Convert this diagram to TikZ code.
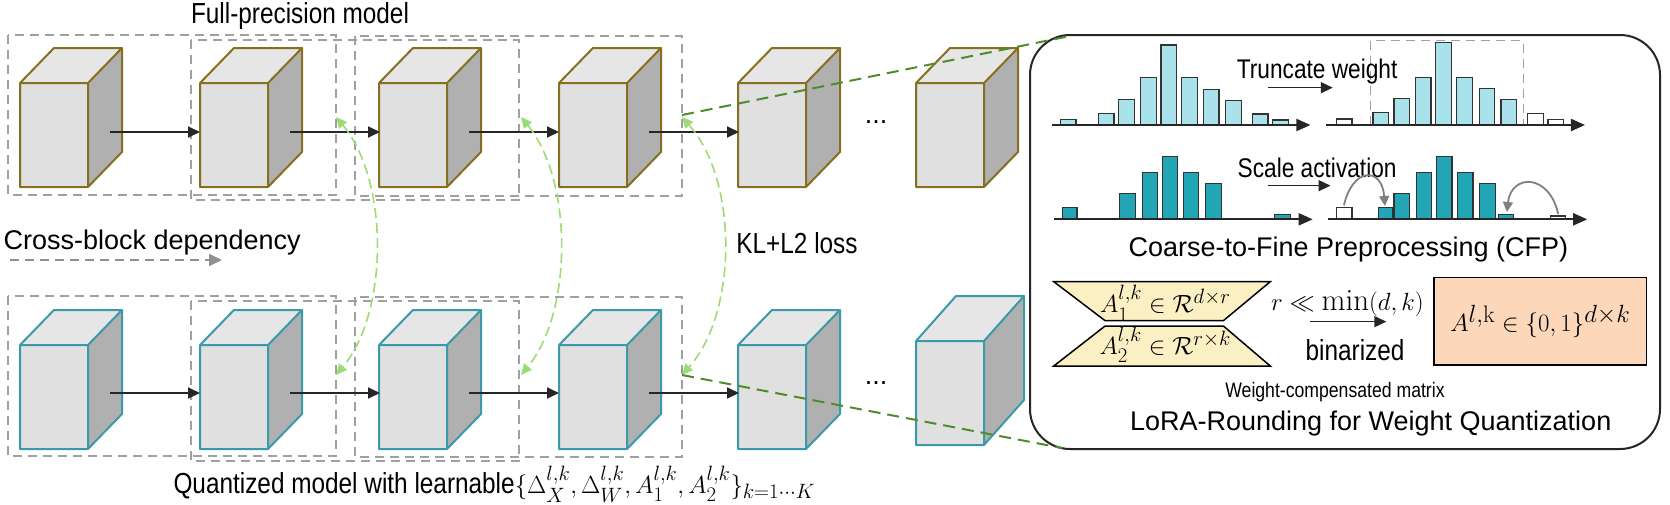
\documentclass[tikz,border=0pt]{standalone}
\usepackage{fontspec}
\setmainfont{Liberation Sans}
\newfontfamily\narrow{Liberation Sans}[FakeStretch=0.84]
\newfontfamily\lmr{Latin Modern Roman}
\newcommand{\serifup}[1]{\text{\lmr #1}}
\usepackage{amsmath}
\usetikzlibrary{arrows.meta}
\definecolor{olive}{HTML}{86701F}
\definecolor{tealb}{HTML}{3A9AAA}
\definecolor{frontc}{HTML}{E0E0E0}
\definecolor{sidec}{HTML}{B0B0B0}
\definecolor{topc}{HTML}{E6E6E6}
\definecolor{lbar}{HTML}{A9E2EA}
\definecolor{dbar}{HTML}{22A5B5}
\definecolor{lgreen}{HTML}{9CDC78}
\definecolor{dgreen}{HTML}{4E8C2E}
\definecolor{gbox}{HTML}{A0A0A0}
\definecolor{orangec}{HTML}{FCD7BA}
\definecolor{yellowc}{HTML}{FBF0C4}
\tikzset{
  gdash/.style={draw=gbox, line width=1.8pt, dash pattern=on 9pt off 6pt},
  flow/.style={-{Triangle[length=12pt,width=11pt]}, line width=1.8pt, black!85},
  kl/.style={{Triangle[length=11pt,width=10pt]}-{Triangle[length=11pt,width=10pt]}, draw=lgreen, line width=1.6pt, dash pattern=on 10pt off 5pt},
  link/.style={draw=dgreen, line width=2pt, dash pattern=on 12pt off 7pt},
  bar/.style={draw=black!80, line width=1.2pt},
  axis/.style={-{Triangle[length=14pt,width=12pt]}, line width=2pt, black!85},
  txt/.style={font=\fontsize{27}{30}\selectfont},
  ntxt/.style={font=\narrow\fontsize{29}{30}\selectfont},
}
\newcommand{\mycube}[5]{% x, y (front top-left), edge color, dx, dy
  \fill[topc] (#1,#2) -- ++(#4,-#5) -- ++(68,0) -- ++(-#4,#5) -- cycle;
  \fill[sidec] (#1+68,#2) -- ++(#4,-#5) -- ++(0,104) -- ++(-#4,#5) -- cycle;
  \fill[frontc] (#1,#2) rectangle ++(68,104);
  \draw[#3, line width=2pt, line join=round] (#1,#2) rectangle ++(68,104)
     (#1,#2) -- ++(#4,-#5) -- ++(68,0) -- ++(-#4,#5)
     (#1+68+#4,#2-#5) -- ++(0,104) -- ++(-#4,#5);
}
\begin{document}
\begin{tikzpicture}[x=1pt,y=-1pt]
\useasboundingbox (0,0) rectangle (1670,504);
% dashed boxes
\foreach \dy in {0,261}{
  \draw[gdash] (8,35+\dy) rectangle (336,195+\dy);
  \draw[gdash] (191,40+\dy) rectangle (519,200+\dy);
  \draw[gdash] (355,36+\dy) rectangle (682,196+\dy);
}
% cubes
\foreach \x in {20,200,379,559,738,916}{ \mycube{\x}{83}{olive}{34}{35} }
\foreach \x in {20,200,379,559,738}{ \mycube{\x}{345}{tealb}{34}{35} }
\mycube{916}{341}{tealb}{40}{45}
% flow arrows
\foreach \x [count=\i] in {20,200,379,559}{
  \coordinate (t\i) at (\x+90,132); \coordinate (tn\i) at (\x+180,132);
  \draw[flow] (t\i) -- (tn\i);
  \coordinate (b\i) at (\x+90,393); \coordinate (bn\i) at (\x+180,393);
  \draw[flow] (b\i) -- (bn\i);
}
\node[txt] (dots1) at (876,122) {...};
\node[txt] (dots2) at (876,383) {...};
% KL arrows
\foreach \x/\c in {336/389,521/573,682/738}{
  \draw[kl] (\x,117) .. controls (\c,180) and (\c,312) .. (\x,375);
}
% texts
\node[ntxt] (title) at (300,16) {Full-precision model};
\node[txt, anchor=west] (cbd) at (0,243) {Cross-block dependency};
\coordinate (la) at (10,260); \coordinate (lb) at (222,260);
\draw[draw=gbox!90!black, line width=1.8pt, dash pattern=on 9pt off 6pt, -{Triangle[length=13pt,width=12pt]}] (la) -- (lb);
\node[ntxt] (kl) at (797,243) {KL+L2 loss};
\node[ntxt, anchor=base west] (qm) at (170,493) {Quantized model with learnable\fontsize{31}{32}\selectfont$\{\Delta_X^{l,k},\Delta_W^{l,k},A_1^{l,k},A_2^{l,k}\}_{k=1\cdots K}$};
% panel
\draw[line width=2pt, black!85, rounded corners=40pt] (1030,35) rectangle (1660,449);
\coordinate (p1) at (682,115); \coordinate (p2) at (1070,36);
\coordinate (p3) at (682,375); \coordinate (p4) at (1062,448);
\draw[link] (p1) -- (p2);
\draw[link] (p3) -- (p4);
% histograms
\begin{scope}[shift={(960,20)}, xscale=1/2.24, yscale=1/3]
  \foreach \a/\b/\t in {225/260/298,310/345/280,355/390/238,405/440/172,450/485/75,497/532/172,545/580/208,595/630/242,655/690/282,700/735/300}
    \draw[bar, fill=lbar] (\a,315) rectangle (\b,\t);
  \foreach \a/\b/\t/\f in {843/878/297/white,925/960/277/lbar,972/1007/235/lbar,1020/1055/172/lbar,1066/1101/68/lbar,1113/1148/172/lbar,1163/1198/205/lbar,1212/1247/238/lbar,1272/1307/280/white,1317/1352/298/white}
    \draw[bar, fill=\f] (\a,315) rectangle (\b,\t);
  \draw[gdash, line width=1.5pt] (920,315) -- (920,62) -- (1262,62) -- (1262,315);
  \coordinate (h1a) at (205,315); \coordinate (h1b) at (785,315);
  \coordinate (h2a) at (820,315); \coordinate (h2b) at (1400,315);
  \draw[axis] (h1a) -- (h1b); \draw[axis] (h2a) -- (h2b);
  \node[ntxt, font=\narrow\fontsize{27}{28}\selectfont] (tw) at (800,155) {Truncate weight};
  \coordinate (ta) at (690,203); \coordinate (tb) at (835,203);
  \draw[flow, line width=1.6pt] (ta) -- (tb);
  \foreach \a/\b/\t in {230/262/563,358/393/520,408/443/457,453/488/410,500/535/457,550/585/490,705/740/583}
    \draw[bar, fill=dbar] (\a,598) rectangle (\b,\t);
  \foreach \a/\b/\t/\f in {843/878/563/white,937/970/563/dbar,972/1007/520/dbar,1022/1057/457/dbar,1067/1102/410/dbar,1114/1149/457/dbar,1164/1199/490/dbar,1207/1240/583/dbar,1322/1357/588/white}
    \draw[bar, fill=\f] (\a,598) rectangle (\b,\t);
  \coordinate (h3a) at (210,598); \coordinate (h3b) at (790,598);
  \coordinate (h4a) at (825,598); \coordinate (h4b) at (1405,598);
  \draw[axis] (h3a) -- (h3b); \draw[axis] (h4a) -- (h4b);
  \node[ntxt, font=\narrow\fontsize{27}{28}\selectfont] (sa) at (800,445) {Scale activation};
  \coordinate (sa1) at (690,497); \coordinate (sa2) at (830,497);
  \draw[flow, line width=1.6pt] (sa1) -- (sa2);
  \coordinate (c1) at (860,556); \coordinate (c2) at (952,558);
  \coordinate (c3) at (1340,582); \coordinate (c4) at (1225,576);
  \draw[gray, line width=1.8pt, -{Triangle[length=10pt,width=10pt]}] (c1) .. controls (880,440) and (945,440) .. (c2);
  \draw[gray, line width=1.8pt, -{Triangle[length=10pt,width=10pt]}] (c3) .. controls (1320,460) and (1235,460) .. (c4);
  \node[txt] (cfp) at (870,690) {Coarse-to-Fine Preprocessing (CFP)};
\end{scope}
\begin{scope}[shift={(960,250)}, xscale=1/2.24, yscale=1/3]
  \draw[line width=1.5pt, fill=yellowc] (210,95) -- (695,95) -- (590,212) -- (325,212) -- cycle;
  \draw[line width=1.5pt, fill=yellowc] (325,228) -- (590,228) -- (695,348) -- (210,348) -- cycle;
  \draw[line width=1.5pt, fill=orangec] (1062,82) rectangle (1538,345);
  \node[font=\fontsize{31}{32}\selectfont] (a1) at (460,160) {$A_1^{l,k}\in\mathcal{R}^{d\times r}$};
  \node[font=\fontsize{31}{32}\selectfont] (a2) at (460,285) {$A_2^{l,k}\in\mathcal{R}^{r\times k}$};
  \node[font=\fontsize{31}{32}\selectfont] (rr) at (868,160) {$r\ll \serifup{min}(d,k)$};
  \coordinate (ba) at (785,215); \coordinate (bb) at (955,215);
  \draw[flow, line width=1.6pt] (ba) -- (bb);
  \node[ntxt] (bin) at (885,300) {binarized};
  \node[font=\fontsize{34}{36}\selectfont] (ab) at (1300,213) {$A^{l,\serifup{k}}\in\{0,1\}^{d\times k}$};
  \node[font=\narrow\fontsize{21}{22}\selectfont] (wcm) at (840,425) {Weight-compensated matrix};
  \node[txt] (lora) at (920,520) {LoRA-Rounding for Weight Quantization};
\end{scope}
\end{tikzpicture}
\end{document}
